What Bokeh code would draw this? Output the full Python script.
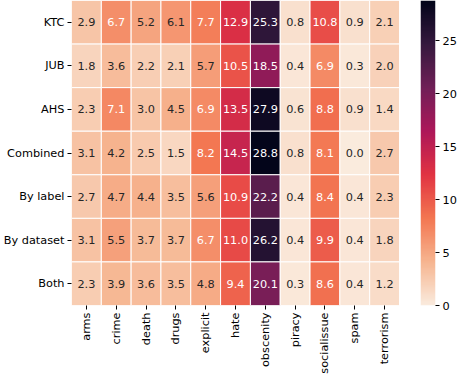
import numpy as np
from bokeh.plotting import figure
from bokeh.layouts import row
from bokeh.models import ColumnDataSource, LinearColorMapper, FixedTicker, FactorRange, Range1d
from bokeh.embed import file_html
from bokeh.resources import INLINE

rows = ["KTC", "JUB", "AHS", "Combined", "By label", "By dataset", "Both"]
cols = ["arms", "crime", "death", "drugs", "explicit", "hate", "obscenity",
        "piracy", "socialissue", "spam", "terrorism"]

ktc = [2.9, 6.7, 5.2, 6.1, 7.7, 12.9, 25.3, 0.8, 10.8, 0.9, 2.1]
jub = [1.8, 3.6, 2.2, 2.1, 5.7, 10.5, 18.5, 0.4, 6.9, 0.3, 2.0]
ahs = [2.3, 7.1, 3.0, 4.5, 6.9, 13.5, 27.9, 0.6, 8.8, 0.9, 1.4]
combined = [3.1, 4.2, 2.5, 1.5, 8.2, 14.5, 28.8, 0.8, 8.1, 0.0, 2.7]
by_label = [2.7, 4.7, 4.4, 3.5, 5.6, 10.9, 22.2, 0.4, 8.4, 0.4, 2.3]
by_dataset = [3.1, 5.5, 3.7, 3.7, 6.7, 11.0, 26.2, 0.4, 9.9, 0.4, 1.8]
both = [2.3, 3.9, 3.6, 3.5, 4.8, 9.4, 20.1, 0.3, 8.6, 0.4, 1.2]
cbar_ticks = [0, 5, 10, 15, 20, 25]

table = [ktc, jub, ahs, combined, by_label, by_dataset, both]

# rocket_r colormap anchors (light -> dark)
anchors = ["#faebdd", "#f6b48f", "#f37651", "#e13342", "#ad1759", "#701f57", "#35193e", "#03051a"]
def hex2rgb(h):
    return np.array([int(h[i:i + 2], 16) for i in (1, 3, 5)], dtype=float)
arr = np.array([hex2rgb(h) for h in anchors])
pos = np.linspace(0, 1, len(anchors))
t = np.linspace(0, 1, 256)
pal_rgb = np.stack([np.interp(t, pos, arr[:, k]) for k in range(3)], axis=1)
palette = ["#%02x%02x%02x" % tuple(int(round(c)) for c in rgb) for rgb in pal_rgb]

vmin = 0.0
vmax = max(max(r) for r in table)

def lum(rgb):
    c = rgb / 255.0
    c = np.where(c <= 0.03928, c / 12.92, ((c + 0.055) / 1.055) ** 2.4)
    return float(c.dot([0.2126, 0.7152, 0.0722]))

xs, ys, vals, fills, tcols, labels = [], [], [], [], [], []
for r, rowvals in zip(rows, table):
    for c, v in zip(cols, rowvals):
        idx = int(np.clip((v - vmin) / (vmax - vmin) * 255, 0, 255))
        rgb = pal_rgb[idx]
        xs.append(c); ys.append(r); vals.append(v)
        fills.append(palette[idx])
        tcols.append("#262626" if lum(rgb) > 0.408 else "#ffffff")
        labels.append("%.1f" % v)

src = ColumnDataSource(dict(x=xs, y=ys, v=vals, fill=fills, tc=tcols, lab=labels))

FS = "11.3px"

p = figure(x_range=FactorRange(*cols), y_range=FactorRange(*list(reversed(rows))),
           frame_width=328, frame_height=305, output_backend="svg", toolbar_location=None,
           min_border_left=71, min_border_top=0, min_border_bottom=71, min_border_right=0)
p.rect(x="x", y="y", width=1, height=1, source=src, fill_color="fill",
       line_color="white", line_width=1)
p.text(x="x", y="y", text="lab", source=src, text_color="tc", text_align="center",
       text_baseline="middle", text_font_size=FS, text_font={"value": "DejaVu Sans"})

p.grid.visible = False
p.outline_line_color = None
for ax in (p.xaxis, p.yaxis):
    ax.axis_line_color = None
    ax.major_tick_in = 0
    ax.major_tick_out = 4
    ax.major_tick_line_color = "black"
    ax.major_label_text_font_size = FS
    ax.major_label_text_font = "DejaVu Sans"
    ax.major_label_text_color = "black"
    ax.major_label_standoff = 3
p.xaxis.major_label_orientation = np.pi / 2

# colorbar as its own small figure
mapper = LinearColorMapper(palette=palette, low=vmin, high=vmax)
grad = np.linspace(vmin, vmax, 512).reshape(-1, 1)
cb = figure(x_range=Range1d(0, 1), y_range=Range1d(vmin, vmax), y_axis_location="right",
            frame_width=15, frame_height=305, output_backend="svg", toolbar_location=None,
            min_border_left=21, min_border_right=23, min_border_top=0, min_border_bottom=71)
cb.image(image=[grad], x=0, y=vmin, dw=1, dh=vmax - vmin, color_mapper=mapper)
cb.grid.visible = False
cb.outline_line_color = None
cb.xaxis.visible = False
cb.yaxis.ticker = FixedTicker(ticks=cbar_ticks)
cb.yaxis.axis_line_color = None
cb.yaxis.major_tick_in = 0
cb.yaxis.major_tick_out = 4
cb.yaxis.minor_tick_line_color = None
cb.yaxis.major_tick_line_color = "black"
cb.yaxis.major_label_text_font_size = FS
cb.yaxis.major_label_text_font = "DejaVu Sans"
cb.yaxis.major_label_text_color = "black"
cb.yaxis.major_label_standoff = 3

layout = row(p, cb)
open("out.html", "w").write(file_html(layout, INLINE))
